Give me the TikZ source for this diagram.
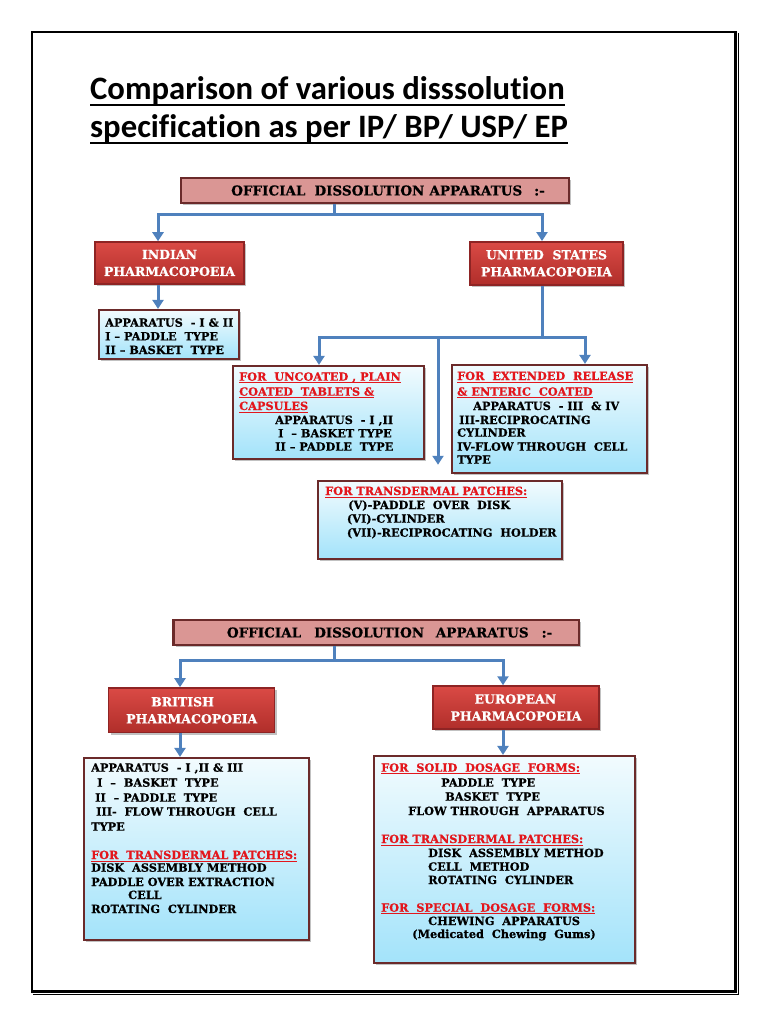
\documentclass[tikz,border=0pt]{standalone}
\usepackage{fontspec}
\setmainfont{DejaVu Serif}[BoldFeatures={FakeBold=0.7}]
\newfontfamily\titlefont[Ligatures=NoCommon]{Carlito}
\usetikzlibrary{arrows.meta,shadows,calc}
\definecolor{redtop}{HTML}{DA4A45}
\definecolor{redbot}{HTML}{B02E2A}
\definecolor{redborder}{HTML}{8E2424}
\definecolor{maroon}{HTML}{6B2A2A}
\definecolor{pinkfill}{HTML}{DA9694}
\definecolor{bluetop}{HTML}{F2FBFE}
\definecolor{bluebot}{HTML}{A3E3FA}
\definecolor{txtred}{HTML}{E3161C}
\definecolor{arrowblue}{HTML}{4F81BD}
\tikzset{
  shad/.style={drop shadow={shadow xshift=2pt,shadow yshift=-2pt,opacity=0.35,fill=black!70}},
  redbox/.style={draw=redborder, line width=1.5pt, top color=redtop, bottom color=redbot,
    text=white, font=\fontsize{12.5}{17}\selectfont\bfseries, inner sep=0pt, shad},
  pinkbox/.style={draw=maroon, line width=2.2pt, fill=pinkfill, inner sep=0pt, shad},
  bluebox/.style={draw=maroon, line width=2.2pt, top color=bluetop, bottom color=bluebot, inner sep=0pt, shad},
  txt/.style={font=\fontsize{11.3}{14}\selectfont\bfseries, inner sep=0pt, anchor=base west},
  redtxt/.style={txt, text=txtred},
  redul/.style={draw=txtred, line width=0.9pt},
  hdrtxt/.style={font=\fontsize{13.5}{16}\selectfont\bfseries, inner sep=0pt, anchor=west},
  conn/.style={draw=arrowblue, line width=3pt},
  arr/.style={conn, -{Triangle[width=11pt,length=9pt]}},
  ttl/.style={font=\titlefont\bfseries\fontsize{32.7}{38}\selectfont, inner sep=0pt, anchor=base west},
  ul/.style={line width=2pt}
}
\newcommand\TL[4]{\node[txt] (#1) at (#2,#3) {#4};}
\newcommand\RL[4]{\node[redtxt] (#1) at (#2,#3) {#4};
  \draw[redul] ([yshift=-2.2pt]#1.base west) -- ([yshift=-2.2pt]#1.base east);}
\begin{document}
\begin{tikzpicture}[x=1pt,y=-1pt]
\useasboundingbox (0,0) rectangle (768,1024);
% page border
\draw[line width=2.5pt] (32,32) rectangle (735.5,991.5);
\draw[line width=0.8pt] (738.5,33) -- (738.5,994.5) -- (33,994.5);
% title
\node[ttl] (t1) at (90,100) {Comparison of various disssolution};
\node[ttl] (t2) at (90,138) {specification as per IP/ BP/ USP/ EP};
\draw[ul] ([yshift=-5pt]t1.base west) -- ([yshift=-5pt]t1.base east);
\draw[ul] ([yshift=-5pt]t2.base west) -- ([yshift=-5pt]t2.base east);

% ---------- upper chart ----------
\node[pinkbox, minimum width=388pt, minimum height=25pt] (h1) at (375,190.5) {};
\node[hdrtxt] (h1t) at (231,190.5) {OFFICIAL\hspace{9pt}DISSOLUTION\hspace{5pt}APPARATUS\hspace{12pt}:-};
\node[redbox, minimum width=149pt, minimum height=42pt, align=center] (ip) at (169.5,263) {INDIAN\\PHARMACOPOEIA};
\node[redbox, minimum width=153pt, minimum height=43pt, align=center] (usp) at (546.5,263.3) {UNITED~ STATES\\PHARMACOPOEIA};
\node[bluebox, minimum width=140pt, minimum height=49pt] (ipl) at (169,334.5) {};
\node[bluebox, minimum width=191pt, minimum height=93pt] (unc) at (328.5,412.5) {};
\node[bluebox, minimum width=195pt, minimum height=108pt] (ext) at (549.2,419) {};
\node[bluebox, minimum width=243.7pt, minimum height=78.3pt] (tdp) at (440,520) {};

\TL{ipa}{105}{326.7}{APPARATUS~ - I \& II}
\TL{ipb}{105}{340.3}{I – PADDLE~ TYPE}
\TL{ipc}{105}{354}{II – BASKET~ TYPE}

\RL{una}{239}{380.7}{FOR~ UNCOATED , PLAIN}
\RL{unb}{239}{395.7}{COATED~ TABLETS \&}
\RL{unc1}{239}{410}{CAPSULES}
\TL{und}{275}{424}{APPARATUS~ - I ,II}
\TL{une}{278}{437.3}{I~ – BASKET TYPE}
\TL{unf}{275}{450.7}{II – PADDLE~ TYPE}

\RL{exa}{457}{380}{FOR~ EXTENDED~ RELEASE}
\RL{exb}{457}{395.7}{\& ENTERIC~ COATED}
\TL{exc}{473}{410}{APPARATUS~ - III~ \& IV}
\TL{exd}{459}{424}{III-RECIPROCATING}
\TL{exe}{457}{436.7}{CYLINDER}
\TL{exf}{457}{450.7}{IV-FLOW THROUGH~ CELL}
\TL{exg}{457}{463.7}{TYPE}

\RL{tda}{325}{495}{FOR TRANSDERMAL PATCHES:}
\TL{tdb}{348}{509}{(V)-PADDLE~ OVER~ DISK}
\TL{tdc}{346.7}{522.7}{(VI)-CYLINDER}
\TL{tdd}{346.7}{536.7}{(VII)-RECIPROCATING~ HOLDER}

\coordinate (j1) at (334,215);
\draw[conn] (h1.south -| j1) -- (j1);
\draw[arr] (j1) -| ([xshift=-11.5pt]ip.north);
\draw[arr] (j1) -| ([xshift=-4.5pt]usp.north);
\draw[arr] ([xshift=-11.5pt]ip.south) -- ([xshift=-11pt]ipl.north);
\coordinate (j2) at (542,337);
\coordinate (j3) at (438,337);
\draw[conn] ([xshift=-4.5pt]usp.south) -- (j2);
\draw[arr] (j2) -| ([xshift=-9.5pt]unc.north);
\draw[arr] (j2) -| ([xshift=35.8pt]ext.north);
\draw[arr, shorten >=15pt] (j3) -- (j3 |- tdp.north);

% ---------- lower chart ----------
\node[pinkbox, minimum width=405.5pt, minimum height=25pt] (h2) at (376.3,632.5) {};
\node[hdrtxt] (h2t) at (226.7,632.5) {OFFICIAL\hspace{13pt}DISSOLUTION\hspace{11.7pt}APPARATUS\hspace{13pt}:-};
\node[redbox, minimum width=166pt, minimum height=44.7pt, align=left] (bp) at (191.7,710.3) {\hspace*{25pt}BRITISH\\PHARMACOPOEIA};
\node[redbox, minimum width=166pt, minimum height=43pt, align=left] (ep) at (516,707.5) {\hspace*{24pt}EUROPEAN\\PHARMACOPOEIA};
\node[bluebox, minimum width=225pt, minimum height=182pt] (bpl) at (196.5,849) {};
\node[bluebox, minimum width=261pt, minimum height=207pt] (epl) at (504.5,859.5) {};

\TL{bpa}{91}{771.7}{APPARATUS~ - I ,II \& III}
\TL{bpb}{97}{786.7}{I~ –~ BASKET~ TYPE}
\TL{bpc}{95}{801.7}{II~ – PADDLE~ TYPE}
\TL{bpd}{96}{815.7}{III-~ FLOW THROUGH~ CELL}
\TL{bpe}{91}{830.7}{TYPE}
\RL{bpf}{91}{859}{FOR~ TRANSDERMAL PATCHES:}
\TL{bpg}{91}{871.7}{DISK~ ASSEMBLY METHOD}
\TL{bph}{91}{886}{PADDLE OVER EXTRACTION}
\TL{bpi}{128}{899}{CELL}
\TL{bpj}{91}{913}{ROTATING~ CYLINDER}

\RL{epa}{381}{771.7}{FOR~ SOLID~ DOSAGE~ FORMS:}
\TL{epb}{441}{786.7}{PADDLE~ TYPE}
\TL{epc}{445}{800.7}{BASKET~ TYPE}
\TL{epd}{408}{815}{FLOW THROUGH~ APPARATUS}
\RL{epe}{381}{843}{FOR TRANSDERMAL PATCHES:}
\TL{epf}{428}{857}{DISK~ ASSEMBLY METHOD}
\TL{epg}{428}{870.7}{CELL~ METHOD}
\TL{eph}{428}{884}{ROTATING~ CYLINDER}
\RL{epi}{381}{911.7}{FOR~ SPECIAL~ DOSAGE~ FORMS:}
\TL{epj}{428}{925}{CHEWING~ APPARATUS}
\TL{epk}{412}{938}{(Medicated~ Chewing~ Gums)}

\coordinate (k1) at (334,660);
\draw[conn] (h2.south -| k1) -- (k1);
\draw[arr] (k1) -| ([xshift=-11.7pt]bp.north);
\draw[arr] (k1) -| ([xshift=-13pt]ep.north);
\draw[arr] ([xshift=-11.7pt]bp.south) -- ([xshift=-16.5pt]bpl.north);
\draw[arr] ([xshift=-13pt]ep.south) -- ([xshift=-1.5pt]epl.north);
\end{tikzpicture}
\end{document}
